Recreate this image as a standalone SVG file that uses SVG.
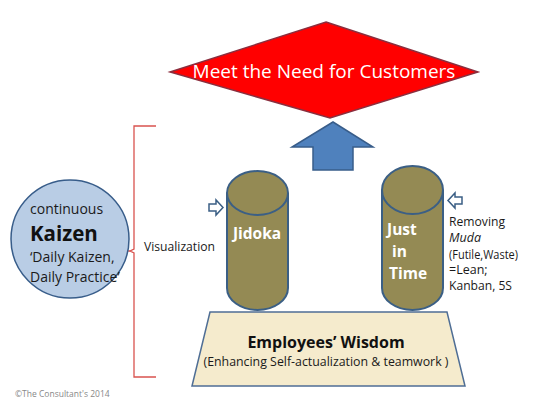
<svg xmlns="http://www.w3.org/2000/svg" width="560" height="420" viewBox="0 0 560 420">
<style>
  text { font-family: "Open Sans", "Liberation Sans", sans-serif; }
  .cyl { fill: #948A54; stroke: #3B5F85; stroke-width: 2; }
  .lbl { fill: #1a1a1a; font-size: 12.5px; }
  .wh { fill: #ffffff; font-weight: bold; font-size: 15.5px; }
  .hollow { fill: #ffffff; stroke: #3B5F85; stroke-width: 1.5; }
  .red { fill: none; stroke: #D9534F; stroke-width: 1.3; }
</style>
<rect width="560" height="420" fill="#ffffff"/>

<g id="goal">
  <polygon points="326,22 478,72 330,118 170,72" fill="#FF0000" stroke="#8B2E3E" stroke-width="1.5"/>
  <text x="324" y="78" text-anchor="middle" fill="#ffffff" font-size="19">Meet the Need for Customers</text>
</g>

<g id="connectors">
  <polygon points="333,122 373,147 353,147 353,170 313,170 313,147 292,147" fill="#4F81BD" stroke="#385D8A" stroke-width="1.5"/>
  <polygon class="hollow" points="209,204 216,204 216,200 223,207.5 216,215 216,211 209,211"/>
  <polygon class="hollow" points="462,197 455,197 455,193 448,200.5 455,208 455,204 462,204"/>
  <line class="red" x1="108" y1="251" x2="130" y2="251"/>
  <path class="red" d="M156,126 L134,126 L134,249 L130,251 L134,253 L134,377 L156,377"/>
</g>

<g id="kaizen">
  <circle cx="70" cy="239" r="59" fill="#B9CDE5" stroke="#385D8A" stroke-width="1.5"/>
  <text x="30" y="214" fill="#1a1a1a" font-size="14">continuous</text>
  <text x="30" y="241" fill="#111" font-size="20.5" font-weight="bold">Kaizen</text>
  <text x="30" y="262" fill="#1a1a1a" font-size="14">‘Daily Kaizen,</text>
  <text x="30" y="282" fill="#1a1a1a" font-size="14">Daily Practice’</text>
</g>

<g id="visualization">
  <text x="144" y="251" class="lbl" textLength="71" lengthAdjust="spacingAndGlyphs">Visualization</text>
</g>

<g id="jidoka">
  <path class="cyl" d="M227,193 L227,288 A30.5,22 0 0 0 288,288 L288,193"/>
  <ellipse class="cyl" cx="257.5" cy="193" rx="30.5" ry="22"/>
  <text x="257" y="239" text-anchor="middle" class="wh">Jidoka</text>
</g>

<g id="jit">
  <path class="cyl" d="M382,190 L382,288 A30.5,22 0 0 0 443,288 L443,190"/>
  <ellipse class="cyl" cx="412.5" cy="190" rx="30.5" ry="24"/>
  <text x="387" y="235" class="wh">Just</text>
  <text x="392" y="257" class="wh">in</text>
  <text x="389" y="279" class="wh">Time</text>
</g>

<g id="muda">
  <text x="449" y="226" class="lbl" textLength="56" lengthAdjust="spacingAndGlyphs">Removing</text>
  <text x="449" y="242" class="lbl" font-size="12" font-style="italic">Muda</text>
  <text x="449" y="258.5" class="lbl" font-size="10.5" textLength="69" lengthAdjust="spacingAndGlyphs">(Futile,Waste)</text>
  <text x="449" y="274" class="lbl">=Lean;</text>
  <text x="449" y="290" class="lbl" textLength="63" lengthAdjust="spacingAndGlyphs">Kanban, 5S</text>
</g>

<g id="wisdom">
  <polygon points="210,312 447,312 465,386 192,386" fill="#F5EBCD" stroke="#4F6E95" stroke-width="1.5"/>
  <text x="326" y="348" text-anchor="middle" fill="#111" font-size="16" font-weight="bold">Employees’ Wisdom</text>
  <text x="326" y="366" text-anchor="middle" class="lbl" font-size="12" textLength="245" lengthAdjust="spacingAndGlyphs">(Enhancing Self-actualization &amp; teamwork )</text>
</g>

<g id="copyright">
  <text x="15" y="397" fill="#888" font-size="8.5">©The Consultant's 2014</text>
</g>
</svg>
